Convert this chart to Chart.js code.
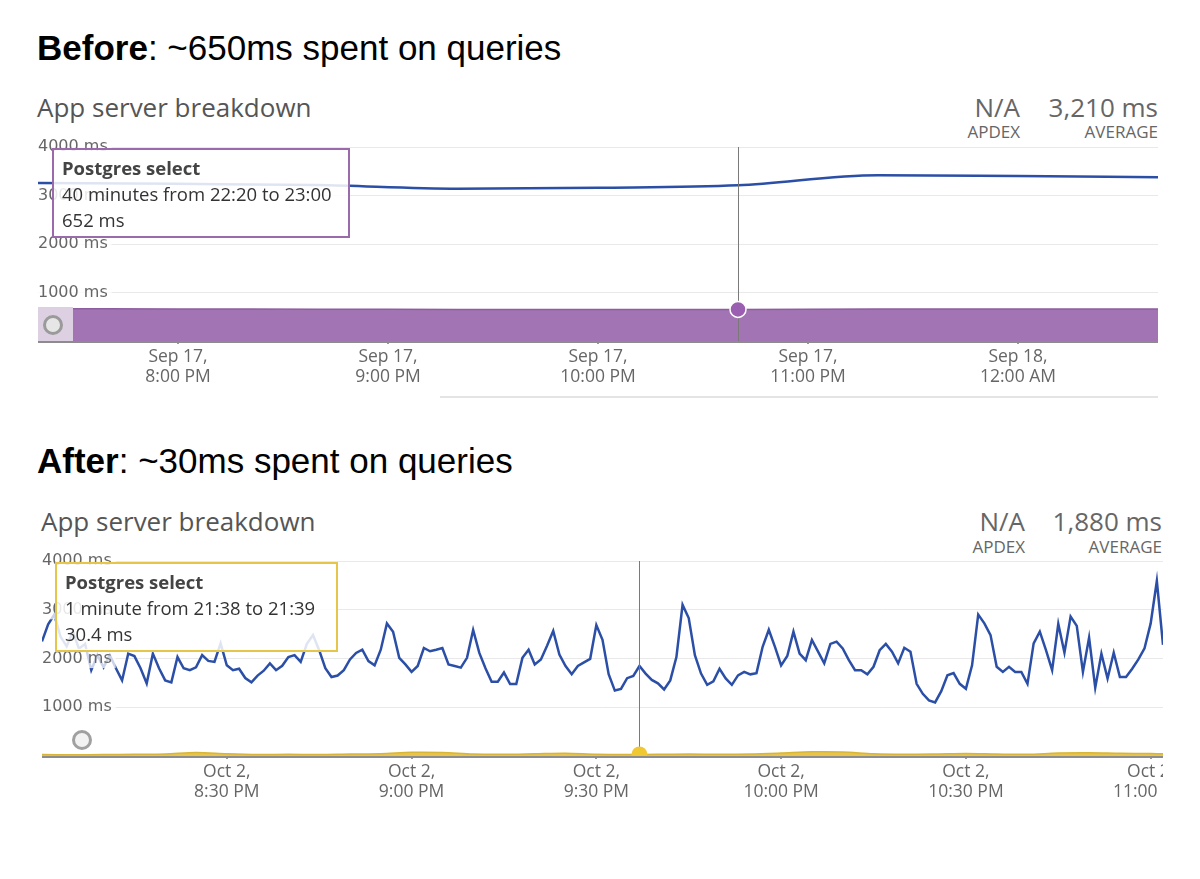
<!DOCTYPE html>
<html>
<head>
<meta charset="utf-8">
<title>App server breakdown</title>
<script src="https://cdn.jsdelivr.net/npm/chart.js@4.4.1/dist/chart.umd.min.js"></script>
<style>
  body { margin: 0; background: #fff; width: 1200px; height: 879px; position: relative; overflow: hidden; font-family: "Open Sans", sans-serif; }
  .abs { position: absolute; }
  .heading { font-family: "Liberation Sans", Arial, sans-serif; font-size: 35px; line-height: 40px; color: #000; white-space: nowrap; }
  .title { font-size: 26px; line-height: 30px; color: #555; white-space: nowrap; }
  .stat { font-size: 26px; line-height: 30px; color: #666; text-align: right; white-space: nowrap; }
  .statlabel { font-size: 17px; line-height: 20px; color: #666; text-align: right; white-space: nowrap; }
  .box { z-index: 2; }
  .tip { background: rgba(255, 255, 255, 0.85); box-sizing: border-box; padding: 5px 0 0 8px; font-size: 18.5px; line-height: 26px; color: #333; white-space: nowrap; z-index: 3; }
  .ring { box-sizing: border-box; border-radius: 50%; z-index: 3; }
</style>
</head>
<body>

<div class="abs heading" style="left:37px; top:28px;"><b>Before</b>: ~650ms spent on queries</div>
<div class="abs title" style="left:37px; top:92px;">App server breakdown</div>
<div class="abs stat" style="right:180px; top:92px;">N/A</div>
<div class="abs stat" style="right:42px; top:92px;">3,210 ms</div>
<div class="abs statlabel" style="right:180px; top:122px;">APDEX</div>
<div class="abs statlabel" style="right:42px; top:122px;">AVERAGE</div>

<div class="abs" style="left:38px; top:137px; width:1120px; height:264px;">
  <canvas id="beforeChart"></canvas>
</div>
<div class="abs box" style="left:38px; top:307px; width:35px; height:34px; background:#ddd0e3;"></div>
<div class="abs ring" style="left:43px; top:315px; width:20px; height:20px; border:3px solid #9a9a9a; background:#e6e6e6;"></div>
<div class="abs tip" style="left:52px; top:148px; width:298px; height:90px; border:2px solid #9a6aab;">
  <b style="color:#444">Postgres select</b><br>40 minutes from 22:20 to 23:00<br>652 ms
</div>
<div class="abs" style="left:440px; top:396px; width:718px; height:2px; background:#e4e4e4;"></div>

<div class="abs heading" style="left:37px; top:441px;"><b>After</b>: ~30ms spent on queries</div>
<div class="abs title" style="left:41px; top:506px;">App server breakdown</div>
<div class="abs stat" style="right:175px; top:506px;">N/A</div>
<div class="abs stat" style="right:38px; top:506px;">1,880 ms</div>
<div class="abs statlabel" style="right:175px; top:537px;">APDEX</div>
<div class="abs statlabel" style="right:38px; top:537px;">AVERAGE</div>

<div class="abs" style="left:42px; top:551px; width:1121px; height:265px;">
  <canvas id="afterChart"></canvas>
</div>
<div class="abs ring" style="left:72px; top:730px; width:20px; height:20px; border:3px solid #a0a0a0; background:#f2f2f2;"></div>
<div class="abs tip" style="left:55px; top:562px; width:283px; height:90px; border:2px solid #e5c64a;">
  <b style="color:#444">Postgres select</b><br>1 minute from 21:38 to 21:39<br>30.4 ms
</div>

<script>
/* Two "app server breakdown" charts: before and after the query fix */

// shared y axis
const yTickValues = [1000, 2000, 3000, 4000];

// before: 40 minute buckets, minutes since midnight on Sep 17
const beforeTimes = [1160, 1200, 1240, 1280, 1320, 1360, 1400, 1440, 1480];
const beforeTotal = [3260, 3240, 3215, 3140, 3160, 3210, 3420, 3400, 3375];
const beforePostgres = [665, 660, 656, 650, 648, 652, 658, 662, 660];
const beforeCursorTime = 1360;
const beforeCursorValue = 652;
const beforeTickValues = [1200, 1260, 1320, 1380, 1440];
const beforeTickLabels = [
  ["Sep 17,", "8:00 PM"],
  ["Sep 17,", "9:00 PM"],
  ["Sep 17,", "10:00 PM"],
  ["Sep 17,", "11:00 PM"],
  ["Sep 18,", "12:00 AM"],
];

// after: 1 minute buckets starting 20:00 on Oct 2
const afterStart = 1200;
const afterTotal = [
  2350, 2700, 2900, 2450, 2250, 2550, 2200, 2300, 1760, 2070,
  1820, 2070, 1800, 1550, 2100, 2050, 1800, 1490, 2100, 1800,
  1550, 1510, 2030, 1800, 1760, 1820, 2070, 1950, 1930, 2310,
  1860, 1760, 1790, 1600, 1510, 1650, 1750, 1900, 1760, 1850,
  2030, 2070, 1930, 2300, 2480, 2170, 1800, 1620, 1650, 1760,
  1980, 2114, 2181, 1946, 1859, 2181, 2718, 2550, 2013, 1879,
  1725, 1846, 2215, 2148, 2180, 2215, 1879, 1846, 1812, 2013,
  2584, 2114, 1800, 1524, 1524, 1712, 1476, 1476, 2013, 2181,
  1879, 1980, 2262, 2564, 2081, 1846, 1678, 1846, 1920, 1993,
  2685, 2383, 1678, 1342, 1376, 1597, 1644, 1846, 1690, 1560,
  1490, 1365, 1550, 2030, 3100, 2830, 2070, 1690, 1460, 1530,
  1790, 1590, 1460, 1655, 1725, 1675, 1700, 2240, 2590, 2240,
  1860, 2050, 2550, 2100, 1965, 2380, 2140, 1900, 2300, 2345,
  2205, 1965, 1760, 1760, 1675, 1830, 2170, 2300, 2140, 1900,
  2220, 2140, 1480, 1275, 1140, 1100, 1330, 1655, 1700, 1480,
  1380, 1860, 2900, 2720, 2480, 1830, 1725, 1830, 1725, 1725,
  1480, 2310, 2550, 2170, 1760, 2710, 2120, 2860, 2670, 1725,
  2430, 1400, 2100, 1590, 2120, 1620, 1620, 1790, 1980, 2210,
  2720, 3590, 2280,
];
// postgres select, sampled every 5 minutes (last sample at the end of the range)
const afterPostgres = [
  30, 25, 30, 35, 40, 70, 45, 30, 35, 30,
  40, 45, 75, 70, 40, 35, 45, 55, 35, 30,
  35, 40, 35, 40, 60, 85, 80, 45, 35, 40,
  50, 40, 35, 60, 65, 55, 50, 45,
];
const afterCursorTime = 1297;
const afterCursorValue = 30.4;
const afterTickValues = [1230, 1260, 1290, 1320, 1350, 1380];
const afterTickLabels = [
  ["Oct 2,", "8:30 PM"],
  ["Oct 2,", "9:00 PM"],
  ["Oct 2,", "9:30 PM"],
  ["Oct 2,", "10:00 PM"],
  ["Oct 2,", "10:30 PM"],
  ["Oct 2,", "11:00 PM"],
];

Chart.defaults.font.family = "'Open Sans', sans-serif";

function cursorPlugin(id, time) {
  return {
    id,
    // draw the hover line just before the cursor dot (dataset 0, drawn last)
    beforeDatasetDraw(chart, args) {
      if (args.index !== 0) return;
      const { ctx, chartArea } = chart;
      const x = Math.round(chart.scales.x.getPixelForValue(time)) + 0.5;
      ctx.save();
      ctx.strokeStyle = "#7a7a7a";
      ctx.lineWidth = 1;
      ctx.beginPath();
      ctx.moveTo(x, chartArea.top);
      ctx.lineTo(x, chartArea.bottom);
      ctx.stroke();
      ctx.restore();
    },
  };
}

function buildBreakdownChart(canvasId, o) {
  const ctx = document.getElementById(canvasId).getContext("2d");

  return new Chart(ctx, {
    type: "line",
    data: {
      datasets: [
        {
          label: "cursor",
          data: [{ x: o.cursorTime, y: o.cursorValue }],
          showLine: false,
          pointRadius: 8,
          pointBackgroundColor: o.dotColor,
          pointBorderColor: o.dotBorderColor,
          pointBorderWidth: o.dotBorderWidth,
        },
        {
          label: "Total",
          data: o.total,
          borderColor: "#2b4ea6",
          borderWidth: 2.5,
          pointRadius: 0,
          fill: false,
          tension: o.smooth ? 0.4 : 0,
          cubicInterpolationMode: o.smooth ? "monotone" : "default",
        },
        {
          label: "Postgres select",
          data: o.postgres,
          borderColor: o.areaLine,
          borderWidth: 1.5,
          backgroundColor: o.areaFill,
          fill: "origin",
          pointRadius: 0,
          tension: 0.3,
        },
      ],
    },
    options: {
      responsive: true,
      maintainAspectRatio: false,
      animation: false,
      events: [],
      layout: { autoPadding: false, padding: { top: 10, left: 0, right: 0, bottom: 0 } },
      plugins: { legend: { display: false }, tooltip: { enabled: false } },
      scales: {
        x: {
          type: "linear",
          min: o.min,
          max: o.max,
          afterBuildTicks: (scale) => {
            scale.ticks = o.tickValues.map((v) => ({ value: v }));
          },
          afterFit: (scale) => {
            scale.height = 60;
            scale.paddingLeft = 0;
            scale.paddingRight = 0;
          },
          grid: { drawOnChartArea: false, drawTicks: true, tickLength: 3, color: "#999", lineWidth: 2 },
          border: { display: true, color: "#8c8c8c", width: 3 },
          ticks: {
            autoSkip: false,
            maxRotation: 0,
            padding: 3,
            color: "#666",
            font: { size: 17.5, lineHeight: 1.15 },
            callback: (value, index) => o.tickLabels[index],
          },
        },
        y: {
          min: 0,
          max: 4000,
          afterBuildTicks: (scale) => {
            scale.ticks = yTickValues.map((v) => ({ value: v }));
          },
          grid: { color: "#e9e9e9", lineWidth: 1, drawTicks: false },
          border: { display: false },
          ticks: {
            mirror: true,
            padding: 0,
            z: 1,
            color: "#666",
            font: { family: "'DejaVu Sans', sans-serif", size: 16 },
            showLabelBackdrop: true,
            backdropColor: "rgba(255,255,255,0.75)",
            backdropPadding: { top: 0, bottom: 0, left: 0, right: 4 },
            callback: (value) => `${value} ms`,
          },
        },
      },
    },
    plugins: [cursorPlugin(canvasId + "Cursor", o.cursorTime)],
  });
}

document.addEventListener("DOMContentLoaded", () => {
  const afterEnd = afterStart + afterTotal.length - 1;

  buildBreakdownChart("beforeChart", {
    min: 1160,
    max: 1480,
    total: beforeTimes.map((t, i) => ({ x: t, y: beforeTotal[i] })),
    postgres: beforeTimes.map((t, i) => ({ x: t, y: beforePostgres[i] })),
    smooth: true,
    areaFill: "#a374b4",
    areaLine: "#8d5d9f",
    cursorTime: beforeCursorTime,
    cursorValue: beforeCursorValue,
    dotColor: "#9a5fb1",
    dotBorderColor: "#fff",
    dotBorderWidth: 1.5,
    tickValues: beforeTickValues,
    tickLabels: beforeTickLabels,
  });

  buildBreakdownChart("afterChart", {
    min: afterStart,
    max: afterEnd,
    total: afterTotal.map((v, i) => ({ x: afterStart + i, y: v })),
    postgres: afterPostgres.map((v, i) => ({ x: Math.min(afterStart + i * 5, afterEnd), y: v })),
    smooth: false,
    areaFill: "#e8c44a",
    areaLine: "#d9b537",
    cursorTime: afterCursorTime,
    cursorValue: afterCursorValue,
    dotColor: "#f0c832",
    dotBorderColor: "#f0c832",
    dotBorderWidth: 0,
    tickValues: afterTickValues,
    tickLabels: afterTickLabels,
  });
});
</script>
</body>
</html>
